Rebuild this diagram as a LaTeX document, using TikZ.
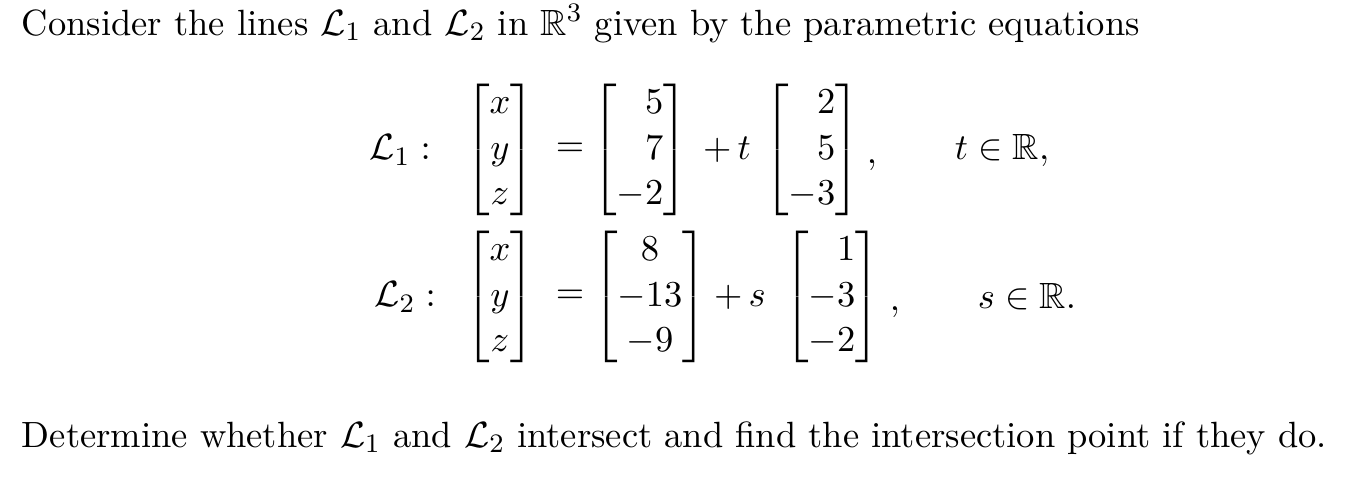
\documentclass[tikz,border=0pt]{standalone}
\usepackage{amsmath,amssymb,mathtools}
\begin{document}
\begin{tikzpicture}[x=0.3pt,y=-0.3pt,every node/.style={inner sep=0pt,outer sep=0pt,font=\fontsize{10.95}{13.6}\selectfont}]
\useasboundingbox (0,0) rectangle (1348,484);
\node[anchor=base west] (l1) at (22,35) {Consider the lines $\mathcal{L}_1$ and $\mathcal{L}_2$ in $\mathbb{R}^3$ given by the parametric equations};
\node (a1) at (400,150) {$\mathcal{L}_1:$};
\node (b1) at (500,150) {$\begin{bmatrix}x\\y\\z\end{bmatrix}$};
\node (c1) at (570,150) {$=$};
\node (d1) at (640,150) {$\begin{bmatrix*}[r]5\\7\\-2\end{bmatrix*}$};
\node (e1) at (727,150) {$+\,t$};
\node (f1) at (812,150) {$\begin{bmatrix*}[r]2\\5\\-3\end{bmatrix*}$};
\node (g1) at (872,165) {$,$};
\node (h1) at (1002,150) {$t\in\mathbb{R},$};
\node (a2) at (405,297) {$\mathcal{L}_2:$};
\node (b2) at (500,297) {$\begin{bmatrix}x\\y\\z\end{bmatrix}$};
\node (c2) at (570,297) {$=$};
\node (d2) at (650,297) {$\begin{bmatrix}8\\-13\\-9\end{bmatrix}$};
\node (e2) at (740,297) {$+\,s$};
\node (f2) at (832,297) {$\begin{bmatrix*}[r]1\\-3\\-2\end{bmatrix*}$};
\node (g2) at (895,312) {$,$};
\node (h2) at (1027,297) {$s\in\mathbb{R}.$};
\node[anchor=base west] (l2) at (22,447) {Determine whether $\mathcal{L}_1$ and $\mathcal{L}_2$ intersect and find the intersection point if they do.};
\end{tikzpicture}
\end{document}
